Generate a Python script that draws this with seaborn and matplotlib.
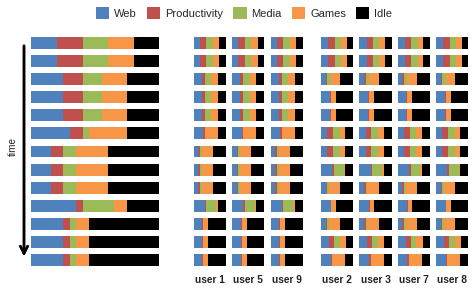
import numpy as np
import matplotlib.pyplot as plt
import seaborn as sns
from matplotlib.patches import Patch

# activity categories and colours
categories = ['Web', 'Productivity', 'Media', 'Games', 'Idle']
colors = ['#4F81BD', '#C0504D', '#9BBB59', '#F79646', '#000000']

# 13 time steps, every row sums to 20 units
steps = [f't{i}' for i in range(1, 14)]

# all users together
all_web = [4, 4, 5, 5, 5, 6, 3, 3, 3, 7, 5, 5, 5]
all_prod = [4, 4, 3, 3, 3, 2, 2, 2, 2, 1, 1, 1, 1]
all_media = [4, 4, 3, 3, 3, 1, 2, 2, 2, 5, 1, 1, 1]
all_games = [4, 4, 4, 4, 4, 6, 5, 5, 5, 2, 2, 2, 2]
all_idle = [4, 4, 5, 5, 5, 5, 8, 8, 8, 5, 11, 11, 11]

# cluster A: users 1, 5, 9
a_users = ['user 1', 'user 5', 'user 9']
a_web = [4, 4, 5, 5, 5, 6, 3, 3, 3, 7, 5.5, 5.5, 5.5]
a_prod = [4, 4, 2, 2, 2, 1, 1, 1, 1, 1, 0.5, 0.5, 0.5]
a_media = [4, 4, 4, 4, 4, 0, 1, 1, 1, 6, 0, 0, 0]
a_games = [4, 4, 4, 4, 4, 8, 7, 7, 7, 1, 3, 3, 3]
a_idle = [4, 4, 5, 5, 5, 5, 8, 8, 8, 5, 11, 11, 11]

# cluster B: users 2, 3, 7, 8
b_users = ['user 2', 'user 3', 'user 7', 'user 8']
b_web = [4.5, 4.5, 3, 5.5, 5.5, 4, 4, 7, 3, 6, 3, 5, 6]
b_prod = [4, 4, 1, 0.5, 0.5, 3.5, 3.5, 1, 1, 0.5, 1, 3, 1]
b_media = [4, 4, 2, 0, 0, 4, 4, 6, 1, 0, 1, 3.5, 0]
b_games = [3.5, 3.5, 6, 3, 3, 3.5, 3.5, 1, 7, 2.5, 7, 4, 8]
b_idle = [4, 4, 8, 11, 11, 5, 5, 5, 8, 11, 8, 4.5, 5]

sns.set_style('white')
plt.rcParams['font.family'] = ['Liberation Sans', 'DejaVu Sans']

W, H = 474, 290
fig = plt.figure(figsize=(W / 100, H / 100), dpi=100)

# vertical extent of the bar area (pixels from top)
top_px, bot_px = 34.3, 268.7
ax_bottom = 1 - bot_px / H
ax_height = (bot_px - top_px) / H


def stacked(ax, parts):
    # draw cumulative totals from the largest down so segments stack
    cum = np.cumsum(np.array(parts, dtype=float), axis=0)
    for i in range(len(parts) - 1, -1, -1):
        sns.barplot(x=cum[i], y=steps, orient='h', color=colors[i],
                    saturation=1, width=0.665, errorbar=None, linewidth=0,
                    edgecolor='none', ax=ax)
    ax.set_xlim(0, 20)
    ax.set_ylim(len(steps) - 0.5, -0.5)
    ax.axis('off')


# big overview group
ax = fig.add_axes([31.5 / W, ax_bottom, 127.5 / W, ax_height])
stacked(ax, [all_web, all_prod, all_media, all_games, all_idle])

# per-user groups
a_left = [193.5, 232.0, 270.5]
b_left = [321.0, 359.3, 397.6, 436.0]
groups = [(u, x, [a_web, a_prod, a_media, a_games, a_idle]) for u, x in zip(a_users, a_left)]
groups += [(u, x, [b_web, b_prod, b_media, b_games, b_idle]) for u, x in zip(b_users, b_left)]
for user, left, parts in groups:
    ax = fig.add_axes([left / W, ax_bottom, 32.3 / W, ax_height])
    stacked(ax, parts)
    ax.text(0.5, -0.048, user, transform=ax.transAxes, ha='center', va='center',
            fontsize=7.3, fontweight='bold', color='#222222')

# legend
handles = [Patch(facecolor=c, edgecolor='none') for c in colors]
fig.legend(handles, categories, loc='center', bbox_to_anchor=(0.515, 1 - 13 / H),
           ncol=5, frameon=False, fontsize=8, handlelength=1.2, handleheight=1.2,
           handletextpad=0.45, columnspacing=0.9, borderpad=0)

# time arrow
fig.add_artist(plt.annotate('', xy=(24 / W, 1 - 259 / H), xytext=(24 / W, 1 - 43 / H),
                            xycoords='figure fraction',
                            arrowprops=dict(arrowstyle='->', lw=1.8, color='black',
                                            mutation_scale=13)))
fig.text(13 / W, 1 - 147 / H, 'time', rotation=90, ha='center', va='center', fontsize=7.2)

fig.savefig('out.png', dpi=100)
